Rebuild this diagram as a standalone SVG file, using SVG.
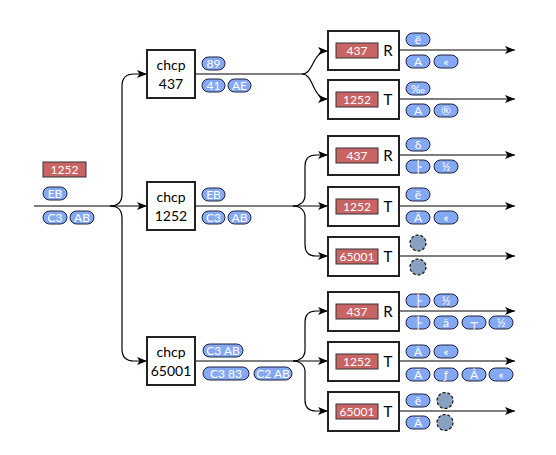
<svg xmlns="http://www.w3.org/2000/svg" width="556" height="455" viewBox="0 0 556 455">
<defs>
<marker id="ah" markerUnits="userSpaceOnUse" markerWidth="12" markerHeight="10" refX="10" refY="4" orient="auto">
<path d="M0,0 L10,4 L0,8 L2.5,4 z" fill="#000"/>
</marker>
</defs>
<style>
text{font-family:"Lato","Open Sans","DejaVu Sans",sans-serif}
.box{fill:#fff;stroke:#222;stroke-width:2}
.red{fill:#c86464;stroke:#333;stroke-width:1}
.rt{fill:#fff;font-size:12px;text-anchor:middle}
.pill{fill:#84a8f2;stroke:#1c2040;stroke-width:1}
.pt{fill:#fff;font-size:12px;text-anchor:middle}
.dc{fill:#8aa0c0;stroke:#111;stroke-width:1.2;stroke-dasharray:3,2}
.bt{fill:#000;font-size:14px;text-anchor:middle}
.lt{fill:#000;font-size:15px;text-anchor:middle}
.c{fill:none;stroke:#000;stroke-width:1.2}
</style>
<g id="connectors">
<path class="c" d="M34,206 L147,206" marker-end="url(#ah)"/>
<path class="c" d="M110,206 C118,206 122,202 122,194 L122,86 C122,78 126,74 134,74 L147,74" marker-end="url(#ah)"/>
<path class="c" d="M110,206 C118,206 122,210 122,218 L122,349 C122,357 126,361 134,361 L147,361" marker-end="url(#ah)"/>
<path class="c" d="M195,74 L302,74"/>
<path class="c" d="M302,74 C314,74 312,51 328,51" marker-end="url(#ah)"/>
<path class="c" d="M302,74 C314,74 312,99 328,99" marker-end="url(#ah)"/>
<path class="c" d="M195,206 L328,206" marker-end="url(#ah)"/>
<path class="c" d="M293,206 C300,206 305,202 305,195 L305,166 C305,159 309,155 316,155 L328,155" marker-end="url(#ah)"/>
<path class="c" d="M293,206 C300,206 305,210 305,217 L305,245 C305,252 309,256 316,256 L328,256" marker-end="url(#ah)"/>
<path class="c" d="M195,361 L328,361" marker-end="url(#ah)"/>
<path class="c" d="M293,361 C300,361 305,357 305,350 L305,322 C305,315 309,311 316,311 L328,311" marker-end="url(#ah)"/>
<path class="c" d="M293,361 C300,361 305,365 305,372 L305,400 C305,407 309,411 316,411 L328,411" marker-end="url(#ah)"/>
<path class="c" d="M399,50 L515,50" marker-end="url(#ah)"/>
<path class="c" d="M399,99 L515,99" marker-end="url(#ah)"/>
<path class="c" d="M399,155 L515,155" marker-end="url(#ah)"/>
<path class="c" d="M399,206 L515,206" marker-end="url(#ah)"/>
<path class="c" d="M399,256 L515,256" marker-end="url(#ah)"/>
<path class="c" d="M399,311 L515,311" marker-end="url(#ah)"/>
<path class="c" d="M399,361 L515,361" marker-end="url(#ah)"/>
<path class="c" d="M399,411 L515,411" marker-end="url(#ah)"/>
</g>
<g id="input">
<rect class="red" x="43" y="162" width="43" height="15"/><text class="rt" x="64.5" y="174">1252</text>
<rect class="pill" x="43" y="187" width="24" height="13" rx="6.5"/><text class="pt" x="55" y="198">EB</text>
<rect class="pill" x="43" y="211" width="24" height="13" rx="6.5"/><text class="pt" x="55" y="222">C3</text>
<rect class="pill" x="70" y="211" width="24" height="13" rx="6.5"/><text class="pt" x="82" y="222">AB</text>
</g>
<g id="chcp437">
<rect class="box" x="147" y="50" width="48" height="48"/>
<text class="bt" x="171" y="70">chcp</text><text class="bt" x="171" y="89">437</text>
<rect class="pill" x="202" y="57" width="23" height="13" rx="6.5"/><text class="pt" x="213.5" y="68">89</text>
<rect class="pill" x="202" y="79" width="23" height="13" rx="6.5"/><text class="pt" x="213.5" y="90">41</text>
<rect class="pill" x="228" y="79" width="23" height="13" rx="6.5"/><text class="pt" x="239.5" y="90">AE</text>
</g>
<g id="chcp1252">
<rect class="box" x="147" y="182" width="48" height="48"/>
<text class="bt" x="171" y="202">chcp</text><text class="bt" x="171" y="221">1252</text>
<rect class="pill" x="202" y="188" width="23" height="13" rx="6.5"/><text class="pt" x="213.5" y="199">EB</text>
<rect class="pill" x="202" y="211" width="23" height="13" rx="6.5"/><text class="pt" x="213.5" y="222">C3</text>
<rect class="pill" x="228" y="211" width="23" height="13" rx="6.5"/><text class="pt" x="239.5" y="222">AB</text>
</g>
<g id="chcp65001">
<rect class="box" x="147" y="337" width="48" height="48"/>
<text class="bt" x="171" y="357">chcp</text><text class="bt" x="171" y="376">65001</text>
<rect class="pill" x="203" y="344" width="40" height="13" rx="6.5"/><text class="pt" x="223" y="355">C3 AB</text>
<rect class="pill" x="203" y="367" width="46" height="13" rx="6.5"/><text class="pt" x="226" y="378">C3 83</text>
<rect class="pill" x="254" y="367" width="38" height="13" rx="6.5"/><text class="pt" x="273" y="378">C2 AB</text>
</g>
<g id="t437-r">
<rect class="box" x="328" y="31" width="71" height="39"/>
<rect class="red" x="336" y="43" width="42" height="15"/><text class="rt" x="357" y="55">437</text>
<text class="lt" x="388" y="56">R</text>
<rect class="pill" x="406" y="33" width="24" height="13" rx="6.5"/><text class="pt" x="418" y="44">ë</text>
<rect class="pill" x="406" y="55" width="24" height="13" rx="6.5"/><text class="pt" x="418" y="66">A</text>
<rect class="pill" x="434" y="55" width="24" height="13" rx="6.5"/><text class="pt" x="446" y="66">«</text>
</g>
<g id="t437-t">
<rect class="box" x="328" y="80" width="71" height="39"/>
<rect class="red" x="336" y="92" width="42" height="15"/><text class="rt" x="357" y="104">1252</text>
<text class="lt" x="388" y="105">T</text>
<rect class="pill" x="406" y="82" width="24" height="13" rx="6.5"/><text class="pt" x="418" y="93">‰</text>
<rect class="pill" x="406" y="104" width="24" height="13" rx="6.5"/><text class="pt" x="418" y="115">A</text>
<rect class="pill" x="434" y="104" width="24" height="13" rx="6.5"/><text class="pt" x="446" y="115">®</text>
</g>
<g id="t1252-r">
<rect class="box" x="328" y="136" width="71" height="39"/>
<rect class="red" x="336" y="148" width="42" height="15"/><text class="rt" x="357" y="160">437</text>
<text class="lt" x="388" y="161">R</text>
<rect class="pill" x="406" y="138" width="24" height="13" rx="6.5"/><text class="pt" x="418" y="149">δ</text>
<rect class="pill" x="406" y="160" width="24" height="13" rx="6.5"/><text class="pt" x="418" y="171">├</text>
<rect class="pill" x="434" y="160" width="24" height="13" rx="6.5"/><text class="pt" x="446" y="171">½</text>
</g>
<g id="t1252-t">
<rect class="box" x="328" y="187" width="71" height="39"/>
<rect class="red" x="336" y="199" width="42" height="15"/><text class="rt" x="357" y="211">1252</text>
<text class="lt" x="388" y="212">T</text>
<rect class="pill" x="406" y="188" width="24" height="13" rx="6.5"/><text class="pt" x="418" y="199">ë</text>
<rect class="pill" x="406" y="211" width="24" height="13" rx="6.5"/><text class="pt" x="418" y="222">Ã</text>
<rect class="pill" x="434" y="211" width="24" height="13" rx="6.5"/><text class="pt" x="446" y="222">«</text>
</g>
<g id="t1252-u">
<rect class="box" x="328" y="237" width="71" height="39"/>
<rect class="red" x="336" y="249" width="42" height="15"/><text class="rt" x="357" y="261">65001</text>
<text class="lt" x="388" y="262">T</text>
<circle class="dc" cx="418" cy="243" r="8"/>
<circle class="dc" cx="418" cy="267" r="8"/>
</g>
<g id="t65001-r">
<rect class="box" x="328" y="292" width="71" height="39"/>
<rect class="red" x="336" y="304" width="42" height="15"/><text class="rt" x="357" y="316">437</text>
<text class="lt" x="388" y="317">R</text>
<rect class="pill" x="406" y="294" width="24" height="13" rx="6.5"/><text class="pt" x="418" y="305">├</text>
<rect class="pill" x="434" y="294" width="24" height="13" rx="6.5"/><text class="pt" x="446" y="305">½</text>
<rect class="pill" x="406" y="316" width="24" height="13" rx="6.5"/><text class="pt" x="418" y="327">├</text>
<rect class="pill" x="434" y="316" width="24" height="13" rx="6.5"/><text class="pt" x="446" y="327">â</text>
<rect class="pill" x="462" y="316" width="24" height="13" rx="6.5"/><text class="pt" x="474" y="327">┬</text>
<rect class="pill" x="489" y="316" width="24" height="13" rx="6.5"/><text class="pt" x="501" y="327">½</text>
</g>
<g id="t65001-t">
<rect class="box" x="328" y="342" width="71" height="39"/>
<rect class="red" x="336" y="354" width="42" height="15"/><text class="rt" x="357" y="366">1252</text>
<text class="lt" x="388" y="367">T</text>
<rect class="pill" x="406" y="345" width="24" height="13" rx="6.5"/><text class="pt" x="418" y="356">Ã</text>
<rect class="pill" x="434" y="345" width="24" height="13" rx="6.5"/><text class="pt" x="446" y="356">«</text>
<rect class="pill" x="406" y="368" width="24" height="13" rx="6.5"/><text class="pt" x="418" y="379">Ã</text>
<rect class="pill" x="434" y="368" width="24" height="13" rx="6.5"/><text class="pt" x="446" y="379">ƒ</text>
<rect class="pill" x="462" y="368" width="24" height="13" rx="6.5"/><text class="pt" x="474" y="379">Â</text>
<rect class="pill" x="489" y="368" width="24" height="13" rx="6.5"/><text class="pt" x="501" y="379">«</text>
</g>
<g id="t65001-u">
<rect class="box" x="328" y="392" width="71" height="39"/>
<rect class="red" x="336" y="404" width="42" height="15"/><text class="rt" x="357" y="416">65001</text>
<text class="lt" x="388" y="417">T</text>
<rect class="pill" x="406" y="394" width="24" height="13" rx="6.5"/><text class="pt" x="418" y="405">ë</text>
<circle class="dc" cx="445" cy="400.5" r="8"/>
<rect class="pill" x="406" y="416" width="24" height="13" rx="6.5"/><text class="pt" x="418" y="427">Ã</text>
<circle class="dc" cx="445" cy="422.5" r="8"/>
</g>
</svg>
